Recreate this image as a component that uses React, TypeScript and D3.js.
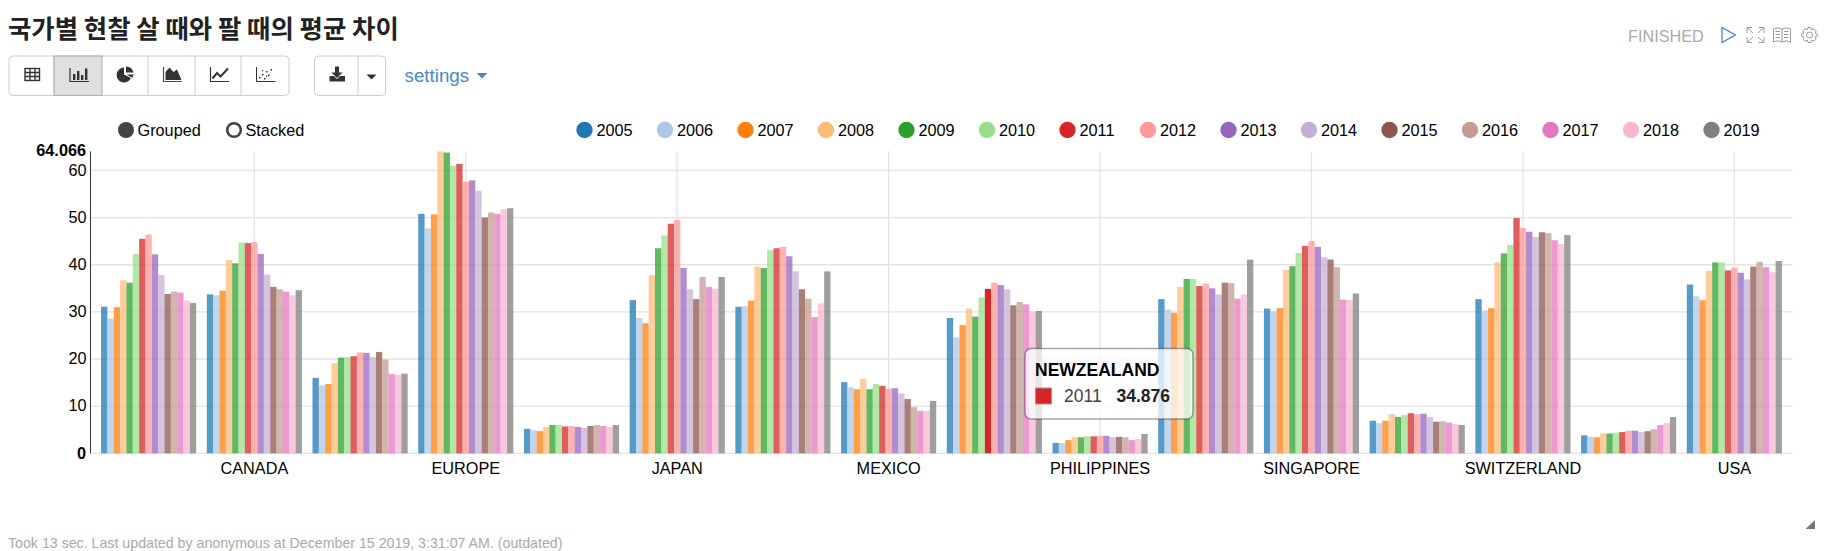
import * as React from "react";
import {useEffect, useRef} from "react";
import {axisBottom, axisLeft, scaleBand, scaleLinear, select} from "d3";

const categories = ["AUSTRALIA", "CANADA", "CHINA", "EUROPE", "HONGKONG", "JAPAN", "KOREA", "MEXICO", "NEWZEALAND", "PHILIPPINES", "RUSSIA", "SINGAPORE", "SWEDEN", "SWITZERLAND", "THAILAND", "USA"];
const years = ["2005", "2006", "2007", "2008", "2009", "2010", "2011", "2012", "2013", "2014", "2015", "2016", "2017", "2018", "2019"];
const colors = ["#1f77b4", "#aec7e8", "#ff7f0e", "#ffbb78", "#2ca02c", "#98df8a", "#d62728", "#ff9896", "#9467bd", "#c5b0d5", "#8c564b", "#c49c94", "#e377c2", "#f7b6d2", "#7f7f7f"];

const australia = [31.1, 28.6, 31.0, 36.7, 36.2, 42.3, 45.5, 46.4, 42.2, 37.8, 33.8, 34.3, 34.1, 32.4, 31.9];
const canada = [33.7, 33.5, 34.5, 41.0, 40.3, 44.7, 44.6, 44.8, 42.3, 37.9, 35.3, 34.8, 34.3, 33.5, 34.6];
const china = [16.0, 14.4, 14.7, 19.1, 20.3, 20.4, 20.6, 21.4, 21.3, 20.4, 21.5, 19.9, 16.8, 16.6, 16.9];
const europe = [50.8, 47.7, 50.7, 64.066, 63.8, 61.0, 61.4, 57.6, 57.9, 55.7, 50.0, 51.1, 50.8, 51.8, 52.0];
const hongkong = [5.2, 4.9, 4.7, 5.6, 6.0, 6.0, 5.7, 5.8, 5.6, 5.4, 5.8, 6.0, 5.8, 5.6, 6.0];
const japan = [32.5, 28.7, 27.6, 37.8, 43.5, 46.2, 48.7, 49.5, 39.3, 34.8, 32.7, 37.4, 35.3, 34.9, 37.4];
const korea = [31.1, 31.2, 32.4, 39.6, 39.3, 43.1, 43.5, 43.8, 41.8, 38.6, 34.8, 32.8, 28.9, 31.8, 38.6];
const mexico = [15.1, 14.0, 13.6, 15.8, 13.6, 14.7, 14.3, 13.7, 13.8, 12.7, 11.5, 9.8, 9.0, 9.0, 11.1];
const newzealand = [28.7, 24.6, 27.2, 30.7, 29.0, 33.1, 34.876, 36.2, 35.7, 34.8, 31.4, 32.1, 31.6, 30.0, 30.2];
const philippines = [2.2, 2.2, 2.8, 3.5, 3.4, 3.6, 3.6, 3.7, 3.7, 3.4, 3.5, 3.4, 2.8, 3.0, 4.1];
const russia = [32.7, 30.5, 29.8, 35.3, 37.0, 37.0, 35.5, 36.0, 35.0, 33.7, 36.2, 36.1, 32.8, 33.7, 41.1];
const singapore = [30.7, 30.1, 30.8, 38.9, 39.7, 42.5, 44.0, 45.0, 43.8, 41.6, 41.1, 39.5, 32.6, 32.5, 33.9];
const sweden = [6.9, 6.4, 6.9, 8.3, 7.7, 8.1, 8.5, 8.3, 8.4, 7.7, 6.7, 6.8, 6.5, 6.2, 6.0];
const switzerland = [32.7, 30.3, 30.8, 40.5, 42.4, 44.2, 49.9, 47.8, 47.0, 45.9, 46.9, 46.7, 45.2, 44.4, 46.3];
const thailand = [3.8, 3.5, 3.4, 4.2, 4.2, 4.4, 4.5, 4.8, 4.8, 4.5, 4.7, 5.1, 6.0, 6.4, 7.7];
const usa = [35.8, 33.3, 32.5, 38.7, 40.5, 40.5, 38.8, 39.4, 38.3, 36.9, 39.6, 40.6, 39.5, 38.4, 40.8];
const rows = [australia, canada, china, europe, hongkong, japan, korea, mexico, newzealand, philippines, russia, singapore, sweden, switzerland, thailand, usa];

const yTicks = [10, 20, 30, 40, 50, 60];
const yMax = 64.066;
const hovered = {category: "NEWZEALAND", year: "2011", value: "34.876"};

const width = 1830, height = 551;
const plot = {left: 90.5, right: 1792.5, top: 151.3, bottom: 453.3};
const FONT = "'Liberation Sans', Arial, sans-serif";
const KR = "'Noto Sans CJK KR', sans-serif";

const Chart: React.FC = () => {
    const node = useRef<SVGGElement>(null);

    useEffect(() => {
        const g = select(node.current);
        g.selectAll("*").remove();

        const x = scaleBand().domain(categories).range([plot.left, plot.right]).paddingInner(0.1).paddingOuter(0.1);
        const xs = scaleBand().domain(years).range([0, x.bandwidth()]);
        const y = scaleLinear().domain([0, yMax]).range([plot.bottom, plot.top]);

        // grid and y axis
        const yAxis = g.append("g")
            .attr("transform", `translate(${plot.left},0)`)
            .call(axisLeft(y).offset(0).tickValues(yTicks).tickSize(-(plot.right - plot.left)).tickPadding(4) as any);
        yAxis.select(".domain").remove();
        yAxis.selectAll(".tick line").attr("stroke", "#e3e3e3").attr("stroke-width", 1.3);
        yAxis.selectAll("text").attr("font-family", FONT).attr("font-size", 16.25).attr("fill", "#000");

        const xAxis = g.append("g")
            .attr("transform", `translate(0,${plot.bottom})`)
            .call(axisBottom(x).offset(0).tickValues(categories.filter((_, i) => i % 2 === 1)).tickSize(-(plot.bottom - plot.top)).tickPadding(9) as any);
        xAxis.select(".domain").remove();
        xAxis.selectAll(".tick line").attr("stroke", "#e3e3e3").attr("stroke-width", 1.3);
        xAxis.selectAll("text").attr("font-family", FONT).attr("font-size", 16.25).attr("fill", "#000");

        g.append("line")
            .attr("x1", plot.left).attr("x2", plot.right)
            .attr("y1", y(0)).attr("y2", y(0))
            .attr("stroke", "#e3e3e3").attr("stroke-width", 1.3);

        // bars
        const groups = g.selectAll("g.group")
            .data(rows)
            .enter().append("g")
            .attr("class", "group")
            .attr("transform", (_, i) => `translate(${x(categories[i])},0)`);

        groups.each(function (row, i) {
            select(this).selectAll("rect")
                .data(row)
                .enter().append("rect")
                .attr("x", (_, j) => xs(years[j]) as number)
                .attr("width", xs.bandwidth())
                .attr("y", d => y(d))
                .attr("height", d => y(0) - y(d))
                .attr("fill", (_, j) => colors[j])
                .attr("fill-opacity", (_, j) => categories[i] === hovered.category && years[j] === hovered.year ? 1 : 0.75);
        });

        // y axis line and min / max labels
        g.append("line")
            .attr("x1", plot.left).attr("x2", plot.left)
            .attr("y1", y(yMax)).attr("y2", y(0))
            .attr("stroke", "#333").attr("stroke-width", 1);
        [yMax, 0].forEach(v => {
            g.append("text")
                .attr("x", plot.left - 4.5)
                .attr("y", v === 0 ? y(v) + 0.5 : y(v) - 0.7)
                .attr("dy", "0.32em")
                .attr("text-anchor", "end")
                .attr("font-family", FONT).attr("font-size", 16.25).attr("font-weight", "bold")
                .text(v === 0 ? "0" : String(v));
        });

        // series legend
        const legend = g.append("g").selectAll("g")
            .data(years)
            .enter().append("g")
            .attr("transform", (_, i) => `translate(${584.5 + i * 80.5},130)`);
        legend.append("circle").attr("r", 8.2).attr("fill", (_, i) => colors[i]);
        legend.append("text")
            .attr("x", 12).attr("dy", "0.36em")
            .attr("font-family", FONT).attr("font-size", 16.25)
            .text(d => d);
    }, []);

    return <g ref={node}/>;
};

const ToolbarIcons: React.FC = () => (
    <g fill="#333" stroke="none">
        {/* table */}
        <g fill="none" stroke="#333" strokeWidth="1.4">
            <rect x="25" y="68.5" width="14.5" height="12"/>
            <path d="M25 72.5H39.5M25 76.5H39.5M30 68.5V80.5M35 68.5V80.5"/>
        </g>
        {/* bars */}
        <path d="M70 68V81.5H89" fill="none" stroke="#333" strokeWidth="1.2"/>
        <path d="M73 74h2.4v6H73zM77 71h2.4v9H77zM81 75h2.4v5H81zM85 68.5h2.4V80H85z"/>
        {/* pie */}
        <path d="M124 67.5A7.5 7.5 0 1 0 131 78L124 74.5Z"/>
        <path d="M126 66.5A8 8 0 0 1 133.5 72.5L126 72.5Z"/>
        <path d="M126.5 74.5L133.5 74.5A8 8 0 0 1 132.2 77.8Z"/>
        {/* area */}
        <path d="M163.5 67V81.5H182" fill="none" stroke="#833" strokeWidth="1.2"/>
        <path d="M165.5 80V72L169.5 67.5L173.5 72L177 69.5L181.5 80Z"/>
        {/* line */}
        <path d="M210.5 67V81.5H229" fill="none" stroke="#333" strokeWidth="1.2"/>
        <path d="M212.5 78.5L217 73L220.5 76.5L228 68.5" fill="none" stroke="#333" strokeWidth="2"/>
        {/* scatter */}
        <path d="M256.5 67V81.5H275.5" fill="none" stroke="#333" strokeWidth="1"/>
        <path d="M259 77h1.5v1.5H259zM262 74h1.5v1.5H262zM264 78h1.5v1.5H264zM266 71h1.5v1.5H266zM268 74.5h1.5v1.5H268zM270.5 69h1.5v1.5H270.5zM266 75.5h1.2v1.2H266zM262 70h1.2v1.2H262z"/>
        {/* download */}
        <path d="M335 66.5h4v6h3.5l-5.5 5.5-5.5-5.5H335z"/>
        <path d="M329.5 76h4.5l3 3 3-3h5v5.5h-15.5z"/>
        {/* caret */}
        <path d="M366.5 74.5h10l-5 5z"/>
    </g>
);

const Toolbar: React.FC = () => {
    const dividers = [54, 148, 195, 241];
    return (
        <g>
            <rect x="54" y="56" width="48" height="39.5" fill="#e0e0e0"/>
            <rect x="9" y="56" width="280" height="39.5" rx="4" fill="none" stroke="#ccc" strokeWidth="1"/>
            {dividers.map(d => <line key={d} x1={d} x2={d} y1="56" y2="95.5" stroke="#ccc"/>)}
            <rect x="54" y="56" width="48" height="39.5" fill="none" stroke="#adadad"/>
            <rect x="314.5" y="56" width="71" height="39.5" rx="4" fill="none" stroke="#ccc"/>
            <line x1="358" x2="358" y1="56" y2="95.5" stroke="#ccc"/>
            <ToolbarIcons/>
            <text x="404.5" y="82" fontFamily={FONT} fontSize="18.75" fill="#4a89c8">settings</text>
            <path d="M476.5 73h11l-5.5 5.5z" fill="#4a89c8"/>
        </g>
    );
};

const StatusIcons: React.FC = () => (
    <g fill="none" strokeWidth="1">
        <path d="M1722 27.5V42.5L1735.5 35Z" stroke="#3a7cc0" strokeWidth="1.2"/>
        <g stroke="#999">
            <path d="M1747 33V27.5H1752M1747 27.5L1753 33M1764 33V27.5H1758.5M1764 27.5L1758 33M1747 37V42.5H1752M1747 42.5L1753 37M1764 37V42.5H1758.5M1764 42.5L1758 37"/>
            <path d="M1773.5 29Q1778 26.5 1782 29Q1786 26.5 1790.5 29V42Q1786 39.5 1782 42Q1778 39.5 1773.5 42ZM1782 29V42M1775.5 31.5H1780M1775.5 34.5H1780M1775.5 37.5H1780M1784 31.5H1788.5M1784 34.5H1788.5M1784 37.5H1788.5"/>
            <circle cx="1809.5" cy="35" r="3"/>
            <path d="M1808 27.5H1811L1811.7 29.8L1814 28.8L1816.2 31L1815.2 33.2L1817.5 34V36L1815.2 36.8L1816.2 39L1814 41.2L1811.7 40.2L1811 42.5H1808L1807.3 40.2L1805 41.2L1802.8 39L1803.8 36.8L1801.5 36V34L1803.8 33.2L1802.8 31L1805 28.8L1807.3 29.8Z"/>
        </g>
    </g>
);

const Tooltip: React.FC = () => (
    <g>
        <rect x="1025" y="348.5" width="168" height="70.5" rx="6" fill="#fff" fillOpacity="0.75" stroke="#000" strokeOpacity="0.35" strokeWidth="1.5"/>
        <text x="1035" y="376" fontFamily={FONT} fontSize="17.5" fontWeight="bold" fill="#000">{hovered.category}</text>
        <rect x="1035.5" y="388" width="16" height="16" fill={colors[years.indexOf(hovered.year)]} stroke="#999"/>
        <text x="1064" y="402" fontFamily={FONT} fontSize="17.5" fill="#444">{hovered.year}</text>
        <text x="1116.5" y="402" fontFamily={FONT} fontSize="17.5" fontWeight="bold" fill="#222">{hovered.value}</text>
    </g>
);

export default function App() {
    useEffect(() => {
        document.body.style.margin = "0";
    }, []);

    return (
        <svg width={width} height={height} style={{display: "block", position: "absolute", left: 0, top: 0}}>
            <rect width={width} height={height} fill="#fff"/>
            <text x="8" y="38" fontFamily={KR} fontSize="25.4" fontWeight="700" fill="#222">국가별 현찰 살 때와 팔 때의 평균 차이</text>
            <Toolbar/>
            <text x="1628" y="42" fontFamily={FONT} fontSize="16.25" fill="#aaa">FINISHED</text>
            <StatusIcons/>

            <circle cx="126" cy="130" r="8" fill="#444"/>
            <text x="137.5" y="136" fontFamily={FONT} fontSize="16.25" fill="#000">Grouped</text>
            <circle cx="234" cy="130" r="6.8" fill="#fff" stroke="#444" strokeWidth="2.6"/>
            <text x="245.5" y="136" fontFamily={FONT} fontSize="16.25" fill="#000">Stacked</text>

            <Chart/>
            <Tooltip/>

            <path d="M1805.5 529L1815 520V529Z" fill="#777"/>
            <text x="8" y="547.5" fontFamily={FONT} fontSize="14.2" fill="#aaa">Took 13 sec. Last updated by anonymous at December 15 2019, 3:31:07 AM. (outdated)</text>
        </svg>
    );
}
